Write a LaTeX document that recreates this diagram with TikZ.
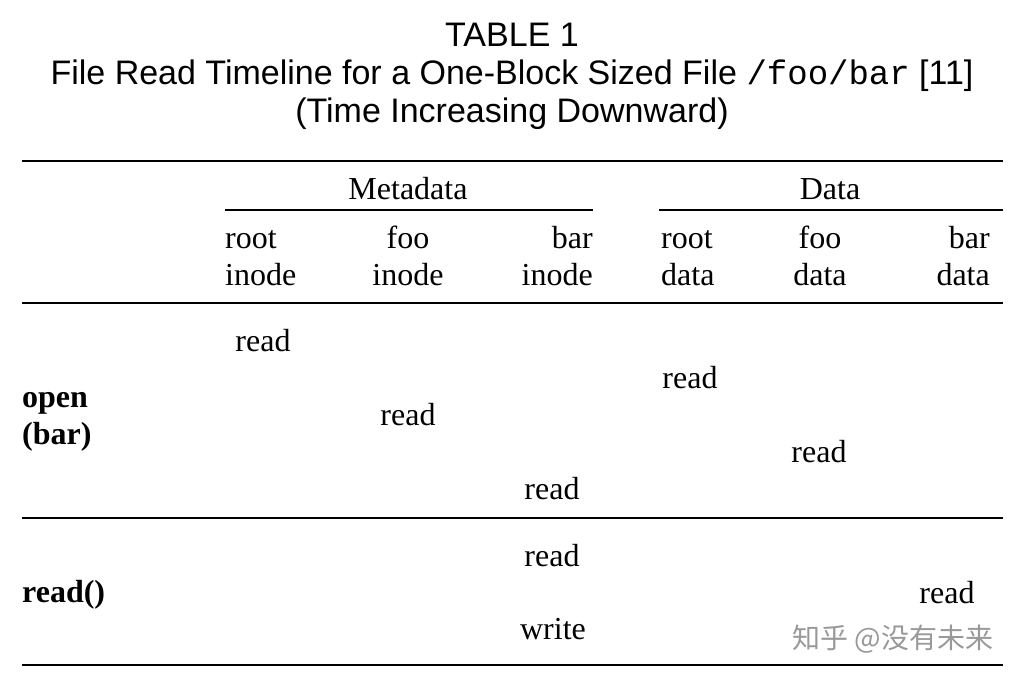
\documentclass[tikz,border=0pt]{standalone}
\usepackage{fontspec}
\setmainfont{Liberation Serif}
\newfontfamily\titlefont{Liberation Sans}
\newfontfamily\cjkfont{Noto Sans CJK SC}
\begin{document}
\begin{tikzpicture}[x=1pt,y=-1pt,
  every node/.style={inner sep=0pt,anchor=base,font=\fontsize{32}{38}\selectfont},
  ttl/.style={font=\titlefont\fontsize{34}{40}\selectfont},
  rul/.style={line width=2.2pt},
  subrul/.style={line width=1.6pt},
  bld/.style={font=\fontsize{32}{38}\selectfont\bfseries}]
\useasboundingbox (0,0) rectangle (1032,684);
\node[ttl] (t1) at (512,47) {TABLE 1};
\node[ttl] (t2) at (512,85) {File Read Timeline for a One-Block Sized File {\fontspec{Liberation Mono}/foo/bar} [11]};
\node[ttl] (t3) at (512,123) {(Time Increasing Downward)};
\draw[rul] (22,161) -- (1003,161);
\draw[subrul] (225,210) -- (593,210);
\draw[subrul] (659,210) -- (1003,210);
\draw[rul] (22,303) -- (1003,303);
\draw[rul] (22,518) -- (1003,518);
\draw[rul] (22,665) -- (1003,665);
\node (md) at (408,200) {Metadata};
\node (dt) at (830,200) {Data};
\node[anchor=base west] (h1a) at (225,249) {root};
\node[anchor=base west] (h1b) at (225,286) {inode};
\node (h2a) at (408,249) {foo};
\node (h2b) at (408,286) {inode};
\node[anchor=base east] (h3a) at (593,249) {bar};
\node[anchor=base east] (h3b) at (593,286) {inode};
\node[anchor=base west] (h4a) at (661,249) {root};
\node[anchor=base west] (h4b) at (661,286) {data};
\node (h5a) at (820,249) {foo};
\node (h5b) at (820,286) {data};
\node[anchor=base east] (h6a) at (990,249) {bar};
\node[anchor=base east] (h6b) at (990,286) {data};
\node (r1) at (263,351) {read};
\node (r2) at (690,388) {read};
\node[bld,anchor=base west] (op) at (22,407) {open};
\node[bld,anchor=base west] (ob) at (22,444) {(bar)};
\node (r3) at (408,425) {read};
\node (r4) at (819,462) {read};
\node (r5) at (552,499) {read};
\node (r6) at (552,566) {read};
\node[bld,anchor=base west] (rd) at (22,602) {read()};
\node (r7) at (947,603) {read};
\node (w1) at (553,639) {write};
\node[font=\cjkfont\fontsize{28}{32}\selectfont,text=black!40] (wm) at (893,648) {知乎 @没有未来};
\end{tikzpicture}
\end{document}
